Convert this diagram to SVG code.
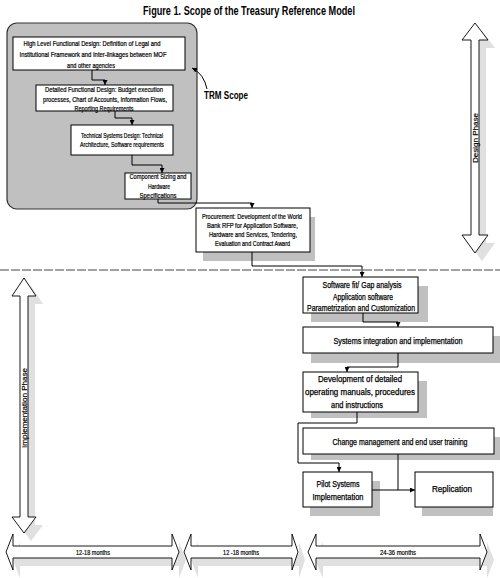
<svg xmlns="http://www.w3.org/2000/svg" width="500" height="578" viewBox="0 0 500 578">
<style>
  text { font-family: "Liberation Sans", Arial, sans-serif; fill: #000; }
  .t { font-size: 7.4px; text-anchor: middle; stroke: #000; stroke-width: 0.22px; }
  .r { font-size: 8.4px; text-anchor: middle; stroke: #000; stroke-width: 0.25px; }
  .m { font-size: 6.5px; text-anchor: middle; stroke: #000; stroke-width: 0.18px; }
  .box { fill: #fff; stroke: #000; stroke-width: 1; }
  .sh { fill: #c0c0c0; }
  .ash { fill: #e0e0e0; }
  .arr { fill: #fff; stroke: #000; stroke-width: 0.9; }
  .con { fill: none; stroke: #000; stroke-width: 1; }
</style>
<defs>
  <marker id="ah" viewBox="0 0 10 10" refX="10" refY="5" markerWidth="5" markerHeight="5" markerUnits="userSpaceOnUse" orient="auto">
    <path d="M0,0 L10,5 L0,10 Z" fill="#000"/>
  </marker>
</defs>
<rect width="500" height="578" fill="#fff"/>

<text x="249" y="15" font-size="12.5" font-weight="bold" text-anchor="middle" textLength="212" lengthAdjust="spacingAndGlyphs">Figure 1. Scope of the Treasury Reference Model</text>

<g id="trm-scope">
  <rect x="7" y="23" width="190" height="186" rx="10" fill="#c0c0c0" stroke="#333" stroke-width="1.2"/>
  <text x="226" y="99" font-size="10" font-weight="bold" text-anchor="middle" textLength="44" lengthAdjust="spacingAndGlyphs">TRM Scope</text>
</g>

<line x1="0" y1="270" x2="500" y2="270" stroke="#444" stroke-width="1" stroke-dasharray="9,2"/>

<g id="design-phase">
  <path class="ash" transform="translate(7,8)" d="M475,23 L488,40 L479,40 L479,235 L488,235 L475,253 L462,235 L471,235 L471,40 L462,40 Z"/>
  <path class="arr" d="M475,23 L488,40 L479,40 L479,235 L488,235 L475,253 L462,235 L471,235 L471,40 L462,40 Z"/>
  <text class="m" transform="translate(477.5,138) rotate(-90)" style="font-size:7.4px" textLength="50" lengthAdjust="spacingAndGlyphs">Design Phase</text>
</g>

<g id="implementation-phase">
  <path class="ash" transform="translate(7,8)" d="M24,278 L36,296 L28,296 L28,517 L36,517 L24,533 L12,517 L20,517 L20,296 L12,296 Z"/>
  <path class="arr" d="M24,278 L36,296 L28,296 L28,517 L36,517 L24,533 L12,517 L20,517 L20,296 L12,296 Z"/>
  <text class="m" transform="translate(26.5,408) rotate(-90)" style="font-size:7.4px" textLength="80" lengthAdjust="spacingAndGlyphs">Implementation Phase</text>
</g>

<g id="months-1">
  <path class="ash" transform="translate(7,8)" d="M6,552 L13,534 L13,546 L172,546 L172,534 L179,552 L172,570 L172,558 L13,558 L13,570 Z"/>
  <path class="arr" d="M6,552 L13,534 L13,546 L172,546 L172,534 L179,552 L172,570 L172,558 L13,558 L13,570 Z"/>
  <text class="m" x="93" y="554.5" textLength="34" lengthAdjust="spacingAndGlyphs">12-18 months</text>
</g>
<g id="months-2">
  <path class="ash" transform="translate(7,8)" d="M184,552 L191,534 L191,546 L292,546 L292,534 L298,552 L292,570 L292,558 L191,558 L191,570 Z"/>
  <path class="arr" d="M184,552 L191,534 L191,546 L292,546 L292,534 L298,552 L292,570 L292,558 L191,558 L191,570 Z"/>
  <text class="m" x="241" y="554.5" textLength="36" lengthAdjust="spacingAndGlyphs">12 -18 months</text>
</g>
<g id="months-3">
  <path class="ash" transform="translate(7,8)" d="M308,552 L316,534 L316,546 L480,546 L480,534 L487,552 L480,570 L480,558 L316,558 L316,570 Z"/>
  <path class="arr" d="M308,552 L316,534 L316,546 L480,546 L480,534 L487,552 L480,570 L480,558 L316,558 L316,570 Z"/>
  <text class="m" x="398" y="554.5" textLength="36" lengthAdjust="spacingAndGlyphs">24-36 months</text>
</g>

<g id="high-level-design">
  <rect class="box" x="13" y="37" width="172" height="33"/>
  <text class="t" x="92" y="46" textLength="137" lengthAdjust="spacingAndGlyphs">High Level Functional Design: Definition of  Legal and</text>
  <text class="t" x="93" y="57" textLength="147" lengthAdjust="spacingAndGlyphs">Institutional Framework and Inter-linkages between MOF</text>
  <text class="t" x="91" y="67.5" textLength="48" lengthAdjust="spacingAndGlyphs">and other agencies</text>
</g>

<g id="detailed-design">
  <rect class="box" x="36" y="85" width="137" height="26"/>
  <text class="t" x="104" y="91.5" textLength="118" lengthAdjust="spacingAndGlyphs">Detailed Functional Design:  Budget execution</text>
  <text class="t" x="105" y="101.5" textLength="124" lengthAdjust="spacingAndGlyphs">processes, Chart of Accounts, Information Flows,</text>
  <text class="t" x="104" y="111" textLength="59" lengthAdjust="spacingAndGlyphs">Reporting Requirements</text>
</g>

<g id="technical-design">
  <rect class="box" x="71" y="125" width="102" height="30"/>
  <text class="t" x="122" y="138" textLength="82" lengthAdjust="spacingAndGlyphs">Technical Systems Design: Technical</text>
  <text class="t" x="122" y="147" textLength="84" lengthAdjust="spacingAndGlyphs">Architecture, Software requirements</text>
</g>

<g id="component-sizing">
  <rect class="box" x="125" y="173" width="66" height="26"/>
  <text class="t" x="158" y="179" textLength="57" lengthAdjust="spacingAndGlyphs">Component Sizing and</text>
  <text class="t" x="159" y="188.5" textLength="22" lengthAdjust="spacingAndGlyphs">Hardware</text>
  <text class="t" x="158" y="198" textLength="37" lengthAdjust="spacingAndGlyphs">Specifications</text>
</g>

<g id="procurement">
  <rect class="sh" x="203" y="217" width="112" height="44"/>
  <rect class="box" x="196" y="208" width="114" height="44"/>
  <text class="t" x="252" y="218.5" textLength="100" lengthAdjust="spacingAndGlyphs">Procurement: Development of the World</text>
  <text class="t" x="252.5" y="227.5" textLength="91" lengthAdjust="spacingAndGlyphs">Bank RFP  for Application Software,</text>
  <text class="t" x="253" y="236.5" textLength="88" lengthAdjust="spacingAndGlyphs">Hardware and Services, Tendering,</text>
  <text class="t" x="252.5" y="245.5" textLength="75" lengthAdjust="spacingAndGlyphs">Evaluation and Contract Award</text>
</g>

<g id="software-fit">
  <rect class="sh" x="311" y="286" width="117" height="36"/>
  <rect class="box" x="303" y="277" width="115" height="36"/>
  <text class="r" x="362" y="288" textLength="79" lengthAdjust="spacingAndGlyphs">Software fit/ Gap analysis</text>
  <text class="r" x="363" y="300" textLength="60" lengthAdjust="spacingAndGlyphs">Application software</text>
  <text class="r" x="361" y="311" textLength="108" lengthAdjust="spacingAndGlyphs">Parametrization and Customization</text>
</g>

<g id="systems-integration">
  <rect class="sh" x="311" y="336" width="189" height="27"/>
  <rect class="box" x="303" y="327" width="190" height="26"/>
  <text class="r" x="398" y="344" textLength="129" lengthAdjust="spacingAndGlyphs">Systems integration and implementation</text>
</g>

<g id="operating-manuals">
  <rect class="sh" x="311" y="381" width="116" height="37"/>
  <rect class="box" x="303" y="372" width="115" height="40"/>
  <text class="r" x="360" y="382" textLength="84" lengthAdjust="spacingAndGlyphs">Development of detailed</text>
  <text class="r" x="360" y="395" textLength="110" lengthAdjust="spacingAndGlyphs">operating manuals, procedures</text>
  <text class="r" x="357" y="408" textLength="52" lengthAdjust="spacingAndGlyphs">and instructions</text>
</g>

<g id="change-management">
  <rect class="sh" x="311" y="437" width="189" height="23"/>
  <rect class="box" x="303" y="428" width="191" height="26"/>
  <text class="r" x="400" y="445" textLength="135" lengthAdjust="spacingAndGlyphs">Change management and end user training</text>
</g>

<g id="pilot">
  <rect class="sh" x="310" y="481" width="70" height="35"/>
  <rect class="box" x="303" y="472" width="69" height="35"/>
  <text class="r" x="338" y="487" textLength="43" lengthAdjust="spacingAndGlyphs">Pilot Systems</text>
  <text class="r" x="338" y="500" textLength="51" lengthAdjust="spacingAndGlyphs">Implementation</text>
</g>

<g id="replication">
  <rect class="sh" x="422" y="481" width="71" height="35"/>
  <rect class="box" x="415" y="472" width="78" height="35"/>
  <text class="r" x="452" y="492" textLength="40" lengthAdjust="spacingAndGlyphs">Replication</text>
</g>

<g id="connectors">
  <path class="con" d="M92,70 V80 H105 V85" marker-end="url(#ah)"/>
  <path class="con" d="M115,111 V118 H132 V125" marker-end="url(#ah)"/>
  <path class="con" d="M132,155 V165 H162 V173" marker-end="url(#ah)"/>
  <path class="con" d="M158,199 V203 H252 V208" marker-end="url(#ah)"/>
  <path class="con" d="M252,252 V266 H362 V277" marker-end="url(#ah)"/>
  <path class="con" d="M363,313 V322 H398 V327" marker-end="url(#ah)"/>
  <path class="con" d="M398,353 V367 H347 V372" marker-end="url(#ah)"/>
  <path class="con" d="M357,412 V423 H298 V463 H339 V472" marker-end="url(#ah)"/>
  <path class="con" d="M372,490 H415" marker-end="url(#ah)"/>
  <path class="con" d="M398,454 V490"/>
  <path class="con" d="M207,89 Q204,74 192,68" marker-end="url(#ah)"/>
</g>
</svg>
